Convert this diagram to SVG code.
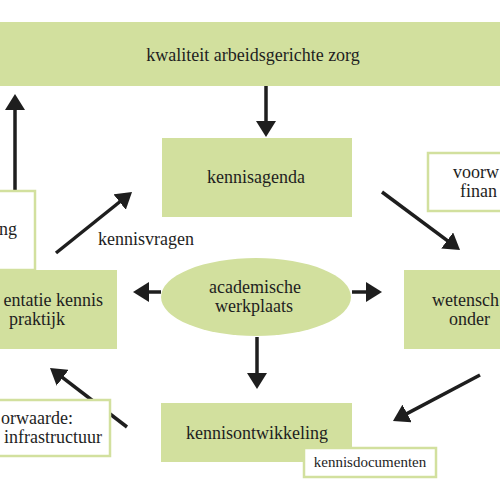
<svg xmlns="http://www.w3.org/2000/svg" width="500" height="500" viewBox="0 0 500 500">
<defs>
<style>
.g{fill:#d2e09e}
.w{fill:#ffffff;stroke:#d2e09e;stroke-width:2.5}
.t{font-family:"Liberation Serif","DejaVu Serif",serif;font-size:18px;fill:#1e1e1e}
.s{font-size:15px}
.c{text-anchor:middle}
.e{text-anchor:end}
.a{stroke:#1e1e1e;stroke-width:3.5;fill:none;marker-end:url(#ah)}
</style>
<marker id="ah" viewBox="0 0 16 20" refX="12" refY="10" markerWidth="16" markerHeight="20" markerUnits="userSpaceOnUse" orient="auto">
<path d="M0,0 L16,10 L0,20 Z" fill="#1e1e1e"/>
</marker>
</defs>
<rect width="500" height="500" fill="#ffffff"/>
<g id="connectors">
<line class="a" x1="266" y1="86" x2="266" y2="133"/>
<line class="a" x1="15" y1="191" x2="15" y2="98"/>
<line class="a" x1="56" y1="253" x2="128.9" y2="194.5"/>
<line class="a" x1="382" y1="192" x2="456.8" y2="247.6"/>
<line class="a" x1="161" y1="292" x2="137" y2="292"/>
<line class="a" x1="352" y1="292" x2="378" y2="292"/>
<line class="a" x1="257" y1="337" x2="257" y2="385"/>
<line class="a" x1="480" y1="375" x2="396.5" y2="419.1"/>
<line class="a" x1="127" y1="427" x2="53.2" y2="370.4"/>
</g>
<g id="kwaliteit">
<rect class="g" x="0" y="22" width="500" height="64"/>
<text class="t c" x="253" y="61">kwaliteit arbeidsgerichte zorg</text>
</g>
<g id="kennisagenda">
<rect class="g" x="162" y="138" width="190" height="79"/>
<text class="t c" x="256" y="183">kennisagenda</text>
</g>
<g id="ng-box">
<rect class="w" x="-5" y="191" width="40" height="79"/>
<text class="t e" x="17" y="235">ng</text>
</g>
<g id="implementatie">
<rect class="g" x="0" y="270" width="117" height="79"/>
<text class="t e" x="103" y="306">entatie kennis</text>
<text class="t" x="9" y="325">praktijk</text>
</g>
<g id="kennisvragen-label">
<text class="t c" x="146" y="245">kennisvragen</text>
</g>
<g id="academische">
<ellipse class="g" cx="256" cy="297" rx="95" ry="39"/>
<text class="t c" x="255" y="293">academische</text>
<text class="t c" x="254" y="312">werkplaats</text>
</g>
<g id="wetenschappelijk">
<rect class="g" x="404" y="270" width="101" height="79"/>
<text class="t" x="432" y="306">wetensch</text>
<text class="t" x="449" y="325">onder</text>
</g>
<g id="voorwaarde-fin">
<rect class="w" x="428" y="153" width="80" height="58"/>
<text class="t" x="453" y="178">voorw</text>
<text class="t" x="460" y="197">finan</text>
</g>
<g id="kennisontwikkeling">
<rect class="g" x="161" y="403" width="191" height="59"/>
<text class="t c" x="257" y="439">kennisontwikkeling</text>
</g>
<g id="kennisdocumenten">
<rect class="w" x="304" y="448" width="132" height="29"/>
<text class="t s c" x="370" y="467">kennisdocumenten</text>
</g>
<g id="voorwaarde-infra">
<rect class="w" x="-5" y="400" width="115" height="56"/>
<text class="t" x="1" y="424">orwaarde:</text>
<text class="t e" x="102" y="443">infrastructuur</text>
</g>
</svg>
